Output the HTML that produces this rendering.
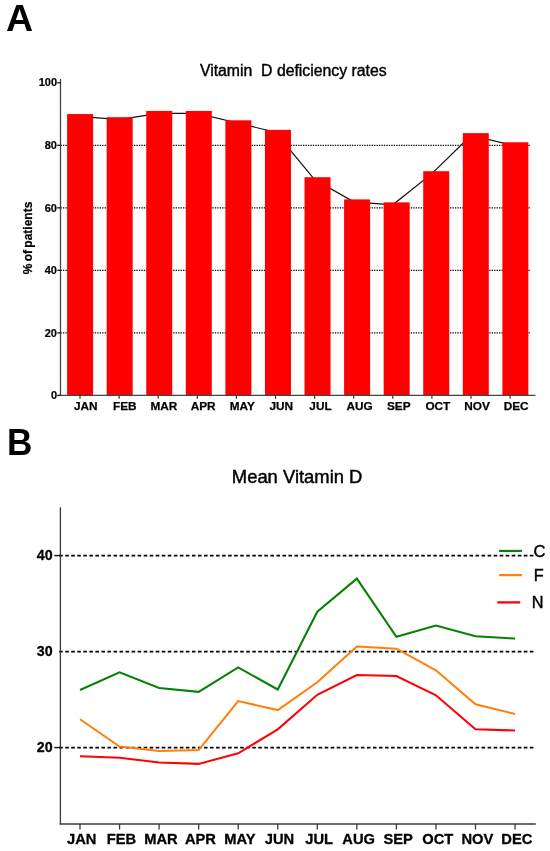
<!DOCTYPE html>
<html><head><meta charset="utf-8"><title>Vitamin D figure</title>
<style>html,body{margin:0;padding:0;background:#fff}svg{display:block}</style></head>
<body>
<svg width="550" height="851" viewBox="0 0 550 851" font-family="'Liberation Sans', sans-serif">
<rect width="550" height="851" fill="#fff"/>
<text x="6.0" y="31" font-size="37.6" font-weight="bold" fill="#000">A</text>
<text transform="translate(7.05 455.0) scale(0.974 1)" font-size="36.1" font-weight="bold" fill="#000">B</text>
<text x="293.3" y="76.0" font-size="15.8" text-anchor="middle" fill="#000" stroke="#000" stroke-width="0.4" xml:space="preserve">Vitamin  D deficiency rates</text>
<line x1="60.5" y1="332.88" x2="530" y2="332.88" stroke="#000" stroke-width="1.25" stroke-dasharray="1.3 1.15"/>
<line x1="60.5" y1="270.36" x2="530" y2="270.36" stroke="#000" stroke-width="1.25" stroke-dasharray="1.3 1.15"/>
<line x1="60.5" y1="207.84" x2="530" y2="207.84" stroke="#000" stroke-width="1.25" stroke-dasharray="1.3 1.15"/>
<line x1="60.5" y1="145.32" x2="530" y2="145.32" stroke="#000" stroke-width="1.25" stroke-dasharray="1.3 1.15"/>
<polyline points="80.00,116.46 119.10,119.59 158.20,113.33 197.30,113.33 236.40,122.71 275.50,132.25 314.60,179.61 353.70,201.80 392.80,204.77 431.90,173.60 471.00,135.53 510.10,144.66" fill="none" stroke="#111" stroke-width="1.2"/>
<rect x="67.10" y="114.06" width="26.0" height="281.34" fill="#ff0000"/>
<rect x="106.67" y="117.19" width="26.0" height="278.21" fill="#ff0000"/>
<rect x="146.24" y="110.93" width="26.0" height="284.47" fill="#ff0000"/>
<rect x="185.81" y="110.93" width="26.0" height="284.47" fill="#ff0000"/>
<rect x="225.38" y="120.31" width="26.0" height="275.09" fill="#ff0000"/>
<rect x="264.95" y="129.85" width="26.0" height="265.55" fill="#ff0000"/>
<rect x="304.52" y="177.21" width="26.0" height="218.19" fill="#ff0000"/>
<rect x="344.09" y="199.40" width="26.0" height="196.00" fill="#ff0000"/>
<rect x="383.66" y="202.37" width="26.0" height="193.03" fill="#ff0000"/>
<rect x="423.23" y="171.20" width="26.0" height="224.20" fill="#ff0000"/>
<rect x="462.80" y="133.13" width="26.0" height="262.27" fill="#ff0000"/>
<rect x="502.37" y="142.26" width="26.0" height="253.14" fill="#ff0000"/>
<line x1="60.5" y1="79" x2="60.5" y2="396.00" stroke="#444" stroke-width="1.3"/>
<line x1="59.9" y1="395.40" x2="535.5" y2="395.40" stroke="#444" stroke-width="1.3"/>
<line x1="57.2" y1="395.40" x2="60.5" y2="395.40" stroke="#111" stroke-width="1.3"/>
<text x="57" y="399" font-size="11" font-weight="bold" text-anchor="end" fill="#000" stroke="#000" stroke-width="0.2">0</text>
<line x1="57.2" y1="332.88" x2="60.5" y2="332.88" stroke="#111" stroke-width="1.3"/>
<text x="57" y="337" font-size="11" font-weight="bold" text-anchor="end" fill="#000" stroke="#000" stroke-width="0.2">20</text>
<line x1="57.2" y1="270.36" x2="60.5" y2="270.36" stroke="#111" stroke-width="1.3"/>
<text x="57" y="274" font-size="11" font-weight="bold" text-anchor="end" fill="#000" stroke="#000" stroke-width="0.2">40</text>
<line x1="57.2" y1="207.84" x2="60.5" y2="207.84" stroke="#111" stroke-width="1.3"/>
<text x="57" y="212" font-size="11" font-weight="bold" text-anchor="end" fill="#000" stroke="#000" stroke-width="0.2">60</text>
<line x1="57.2" y1="145.32" x2="60.5" y2="145.32" stroke="#111" stroke-width="1.3"/>
<text x="57" y="149" font-size="11" font-weight="bold" text-anchor="end" fill="#000" stroke="#000" stroke-width="0.2">80</text>
<line x1="57.2" y1="82.80" x2="60.5" y2="82.80" stroke="#111" stroke-width="1.3"/>
<text x="57" y="86" font-size="11" font-weight="bold" text-anchor="end" fill="#000" stroke="#000" stroke-width="0.2">100</text>
<line x1="80.00" y1="395.40" x2="80.00" y2="398.80" stroke="#333" stroke-width="1.2"/>
<text x="85.70" y="410" font-size="11.8" font-weight="bold" text-anchor="middle" fill="#000" stroke="#000" stroke-width="0.25">JAN</text>
<line x1="119.10" y1="395.40" x2="119.10" y2="398.80" stroke="#333" stroke-width="1.2"/>
<text x="124.83" y="410" font-size="11.8" font-weight="bold" text-anchor="middle" fill="#000" stroke="#000" stroke-width="0.25">FEB</text>
<line x1="158.20" y1="395.40" x2="158.20" y2="398.80" stroke="#333" stroke-width="1.2"/>
<text x="163.96" y="410" font-size="11.8" font-weight="bold" text-anchor="middle" fill="#000" stroke="#000" stroke-width="0.25">MAR</text>
<line x1="197.30" y1="395.40" x2="197.30" y2="398.80" stroke="#333" stroke-width="1.2"/>
<text x="203.09" y="410" font-size="11.8" font-weight="bold" text-anchor="middle" fill="#000" stroke="#000" stroke-width="0.25">APR</text>
<line x1="236.40" y1="395.40" x2="236.40" y2="398.80" stroke="#333" stroke-width="1.2"/>
<text x="242.22" y="410" font-size="11.8" font-weight="bold" text-anchor="middle" fill="#000" stroke="#000" stroke-width="0.25">MAY</text>
<line x1="275.50" y1="395.40" x2="275.50" y2="398.80" stroke="#333" stroke-width="1.2"/>
<text x="281.35" y="410" font-size="11.8" font-weight="bold" text-anchor="middle" fill="#000" stroke="#000" stroke-width="0.25">JUN</text>
<line x1="314.60" y1="395.40" x2="314.60" y2="398.80" stroke="#333" stroke-width="1.2"/>
<text x="320.48" y="410" font-size="11.8" font-weight="bold" text-anchor="middle" fill="#000" stroke="#000" stroke-width="0.25">JUL</text>
<line x1="353.70" y1="395.40" x2="353.70" y2="398.80" stroke="#333" stroke-width="1.2"/>
<text x="359.61" y="410" font-size="11.8" font-weight="bold" text-anchor="middle" fill="#000" stroke="#000" stroke-width="0.25">AUG</text>
<line x1="392.80" y1="395.40" x2="392.80" y2="398.80" stroke="#333" stroke-width="1.2"/>
<text x="398.74" y="410" font-size="11.8" font-weight="bold" text-anchor="middle" fill="#000" stroke="#000" stroke-width="0.25">SEP</text>
<line x1="431.90" y1="395.40" x2="431.90" y2="398.80" stroke="#333" stroke-width="1.2"/>
<text x="437.87" y="410" font-size="11.8" font-weight="bold" text-anchor="middle" fill="#000" stroke="#000" stroke-width="0.25">OCT</text>
<line x1="471.00" y1="395.40" x2="471.00" y2="398.80" stroke="#333" stroke-width="1.2"/>
<text x="477.00" y="410" font-size="11.8" font-weight="bold" text-anchor="middle" fill="#000" stroke="#000" stroke-width="0.25">NOV</text>
<line x1="510.10" y1="395.40" x2="510.10" y2="398.80" stroke="#333" stroke-width="1.2"/>
<text x="516.13" y="410" font-size="11.8" font-weight="bold" text-anchor="middle" fill="#000" stroke="#000" stroke-width="0.25">DEC</text>
<text transform="translate(32.3 237.9) rotate(-90)" font-size="12" word-spacing="-1.1" font-weight="bold" text-anchor="middle" fill="#000" stroke="#000" stroke-width="0.25">% of patients</text>
<text x="297.1" y="483" font-size="18.4" text-anchor="middle" fill="#000" stroke="#000" stroke-width="0.45">Mean Vitamin D</text>
<line x1="59.17" y1="747.55" x2="533.5" y2="747.55" stroke="#000" stroke-width="1.8" stroke-dasharray="3.6 2.434"/>
<line x1="59.17" y1="651.55" x2="533.5" y2="651.55" stroke="#000" stroke-width="1.8" stroke-dasharray="3.6 2.434"/>
<line x1="59.17" y1="555.55" x2="533.5" y2="555.55" stroke="#000" stroke-width="1.8" stroke-dasharray="3.6 2.434"/>
<polyline points="80.00,689.95 119.55,672.38 159.10,688.03 198.65,691.87 238.20,667.39 277.75,689.47 317.30,611.71 356.85,578.59 396.40,636.77 435.95,625.63 475.50,636.19 515.05,638.59" fill="none" stroke="#078007" stroke-width="2.05" stroke-linejoin="miter"/>
<polyline points="80.00,719.23 119.55,746.59 159.10,750.91 198.65,750.05 238.20,701.09 277.75,710.11 317.30,682.27 356.85,646.56 396.40,648.67 435.95,670.27 475.50,704.35 515.05,713.95" fill="none" stroke="#ff7f0a" stroke-width="2.05" stroke-linejoin="miter"/>
<polyline points="80.00,756.19 119.55,757.82 159.10,762.53 198.65,763.87 238.20,753.31 277.75,729.31 317.30,694.75 356.85,674.97 396.40,676.03 435.95,695.33 475.50,729.31 515.05,730.56" fill="none" stroke="#ff0006" stroke-width="2.05" stroke-linejoin="miter"/>
<line x1="60.4" y1="507.3" x2="60.4" y2="824.6" stroke="#3a3a3a" stroke-width="1.3"/>
<line x1="59.8" y1="824.0" x2="535.8" y2="824.0" stroke="#3a3a3a" stroke-width="1.3"/>
<line x1="54.3" y1="747.55" x2="60.4" y2="747.55" stroke="#111" stroke-width="1.4"/>
<text transform="translate(52.7 751.95) scale(0.92 1)" font-size="15.5" font-weight="bold" text-anchor="end" fill="#000" stroke="#000" stroke-width="0.3">20</text>
<text transform="translate(52.7 655.95) scale(0.92 1)" font-size="15.5" font-weight="bold" text-anchor="end" fill="#000" stroke="#000" stroke-width="0.3">30</text>
<line x1="54.3" y1="555.55" x2="60.4" y2="555.55" stroke="#111" stroke-width="1.4"/>
<text transform="translate(52.7 559.95) scale(0.92 1)" font-size="15.5" font-weight="bold" text-anchor="end" fill="#000" stroke="#000" stroke-width="0.3">40</text>
<line x1="80.00" y1="824.0" x2="80.00" y2="829.5" stroke="#3a3a3a" stroke-width="1.3"/>
<text x="81.80" y="844" font-size="14.7" font-weight="bold" text-anchor="middle" fill="#000" stroke="#000" stroke-width="0.3">JAN</text>
<line x1="119.55" y1="824.0" x2="119.55" y2="829.5" stroke="#3a3a3a" stroke-width="1.3"/>
<text x="121.35" y="844" font-size="14.7" font-weight="bold" text-anchor="middle" fill="#000" stroke="#000" stroke-width="0.3">FEB</text>
<line x1="159.10" y1="824.0" x2="159.10" y2="829.5" stroke="#3a3a3a" stroke-width="1.3"/>
<text x="160.90" y="844" font-size="14.7" font-weight="bold" text-anchor="middle" fill="#000" stroke="#000" stroke-width="0.3">MAR</text>
<line x1="198.65" y1="824.0" x2="198.65" y2="829.5" stroke="#3a3a3a" stroke-width="1.3"/>
<text x="200.45" y="844" font-size="14.7" font-weight="bold" text-anchor="middle" fill="#000" stroke="#000" stroke-width="0.3">APR</text>
<line x1="238.20" y1="824.0" x2="238.20" y2="829.5" stroke="#3a3a3a" stroke-width="1.3"/>
<text x="240.00" y="844" font-size="14.7" font-weight="bold" text-anchor="middle" fill="#000" stroke="#000" stroke-width="0.3">MAY</text>
<line x1="277.75" y1="824.0" x2="277.75" y2="829.5" stroke="#3a3a3a" stroke-width="1.3"/>
<text x="279.55" y="844" font-size="14.7" font-weight="bold" text-anchor="middle" fill="#000" stroke="#000" stroke-width="0.3">JUN</text>
<line x1="317.30" y1="824.0" x2="317.30" y2="829.5" stroke="#3a3a3a" stroke-width="1.3"/>
<text x="319.10" y="844" font-size="14.7" font-weight="bold" text-anchor="middle" fill="#000" stroke="#000" stroke-width="0.3">JUL</text>
<line x1="356.85" y1="824.0" x2="356.85" y2="829.5" stroke="#3a3a3a" stroke-width="1.3"/>
<text x="358.65" y="844" font-size="14.7" font-weight="bold" text-anchor="middle" fill="#000" stroke="#000" stroke-width="0.3">AUG</text>
<line x1="396.40" y1="824.0" x2="396.40" y2="829.5" stroke="#3a3a3a" stroke-width="1.3"/>
<text x="398.20" y="844" font-size="14.7" font-weight="bold" text-anchor="middle" fill="#000" stroke="#000" stroke-width="0.3">SEP</text>
<line x1="435.95" y1="824.0" x2="435.95" y2="829.5" stroke="#3a3a3a" stroke-width="1.3"/>
<text x="437.75" y="844" font-size="14.7" font-weight="bold" text-anchor="middle" fill="#000" stroke="#000" stroke-width="0.3">OCT</text>
<line x1="475.50" y1="824.0" x2="475.50" y2="829.5" stroke="#3a3a3a" stroke-width="1.3"/>
<text x="477.30" y="844" font-size="14.7" font-weight="bold" text-anchor="middle" fill="#000" stroke="#000" stroke-width="0.3">NOV</text>
<line x1="515.05" y1="824.0" x2="515.05" y2="829.5" stroke="#3a3a3a" stroke-width="1.3"/>
<text x="516.85" y="844" font-size="14.7" font-weight="bold" text-anchor="middle" fill="#000" stroke="#000" stroke-width="0.3">DEC</text>
<line x1="499.1" y1="550.95" x2="521.9" y2="550.95" stroke="#078007" stroke-width="2.2"/>
<line x1="499.1" y1="575.1" x2="521.9" y2="575.1" stroke="#ff7f0a" stroke-width="2.2"/>
<line x1="497.3" y1="602.4" x2="520.2" y2="602.4" stroke="#ff0006" stroke-width="2.3"/>
<text x="533.6" y="557.1" font-size="16.6" fill="#000" stroke="#000" stroke-width="0.4">C</text>
<text x="533.7" y="580.6" font-size="16.3" fill="#000" stroke="#000" stroke-width="0.4">F</text>
<text x="531.7" y="607.6" font-size="16.3" fill="#000" stroke="#000" stroke-width="0.4">N</text>
</svg>
</body></html>
